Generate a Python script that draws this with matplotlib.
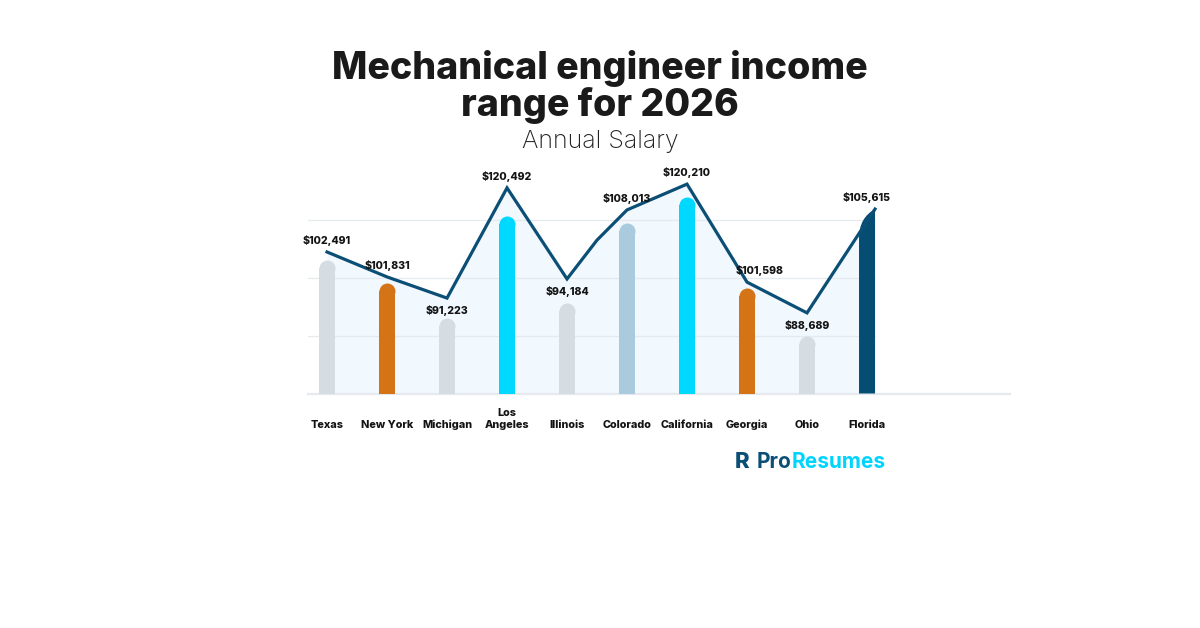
import numpy as np
import matplotlib
matplotlib.use("Agg")
import matplotlib.pyplot as plt
from matplotlib.path import Path
from matplotlib.patches import PathPatch

plt.rcParams['font.family'] = ['Inter', 'DejaVu Sans']

states = ['Texas', 'New York', 'Michigan', 'Los\nAngeles', 'Illinois',
          'Colorado', 'California', 'Georgia', 'Ohio', 'Florida']
salaries = [102491, 101831, 91223, 120492, 94184,
            108013, 120210, 101598, 88689, 105615]
# the graphic is not drawn to scale, so these are the heights as drawn (grid step = 20)
bar_height = [46.0, 38.1, 26.0, 61.2, 31.2, 58.8, 67.8, 36.4, 19.8, 63.6]
line_height = [48.8, 40.2, 32.9, 70.9, 39.5, 63.3, 72.2, 38.4, 27.8, 63.6]
# one extra bend in the line between Illinois and Colorado
bend_x = 4.5
bend_height = 52.9
bar_colors = ['#d5dde3', '#d47416', '#d5dde3', '#00d9ff', '#d5dde3',
              '#a9cbdd', '#00d9ff', '#d47416', '#d5dde3', '#064d73']

NAVY = '#0c4f76'
CYAN = '#00d4ff'
INK = '#141414'

fig = plt.figure(figsize=(12, 6.28), dpi=100)
fig.patch.set_facecolor('white')

# axes placed in pixels: x 308..1010, baseline at 393.5, top at 161.5
ax = fig.add_axes([308 / 1200, 1 - 393.5 / 628, 702 / 1200, 232 / 628])
x0, x1 = -0.317, 11.383
ax.set_xlim(x0, x1)
ax.set_ylim(0, 80)
ax.axis('off')

px_y = 232 / 80          # pixels per y unit
w = 16 / 60              # bar width, 16 px
r = 8 / px_y             # radius of rounded top in y units

pos = np.arange(len(states))
x_line = np.insert(pos.astype(float), 5, bend_x)
x_line[-1] = pos[-1] + w / 2
y_line = np.insert(np.array(line_height), 5, bend_height)

# grid + baseline
for g in (20, 40, 60):
    ax.plot([x0, x_line[-1]], [g, g], color='#e6e9ed', lw=0.9, zorder=2)
ax.plot([x0, x1], [0, 0], color='#e6eaee', lw=1.6, zorder=2, clip_on=False)

# light area under the line
ax.fill_between(x_line, 0, y_line, color='#f1f8fe', zorder=1, lw=0)

# bars with rounded tops
cap_size = (16 * 0.72) ** 2
for i in range(len(states) - 1):
    ax.bar(pos[i], bar_height[i] - r, width=w, color=bar_colors[i], zorder=3, lw=0)
    ax.scatter(pos[i], bar_height[i] - r, s=cap_size, color=bar_colors[i],
               zorder=3, lw=0)

# last bar rises to the line like a fin
xl = pos[-1] - w / 2
xr = pos[-1] + w / 2
peak = bar_height[-1]
fin = Path([(xl, 0), (xl, peak - 10), (xl, peak - 3), (xr, peak), (xr, 0), (xl, 0)],
           [Path.MOVETO, Path.LINETO, Path.CURVE3, Path.CURVE3, Path.LINETO, Path.CLOSEPOLY])
ax.add_patch(PathPatch(fin, facecolor=bar_colors[-1], lw=0, zorder=3))

ax.plot(x_line, y_line, color=NAVY, lw=2.3, zorder=4, solid_joinstyle='miter')

# value labels: above the line, or below it at a dip
nudge = {7: 9}
for i, v in enumerate(salaries):
    k = i if i < 5 else i + 1
    lo = y_line[k - 1] if k > 0 else np.inf
    hi = y_line[k + 1] if k < len(y_line) - 1 else np.inf
    dip = y_line[k] < lo and y_line[k] < hi
    dy = -9 if dip else 8.5
    ax.annotate(f'${v:,}', (pos[i], y_line[k]), xytext=(nudge.get(i, 0), dy),
                textcoords='offset points', ha='center', va='center',
                fontsize=7.6, fontweight='heavy', color=INK, zorder=5)

# category names
for i, s in enumerate(states):
    ax.annotate(s, (pos[i], 0), xytext=(0, -26.3), textcoords='offset points',
                ha='center', va='bottom', fontsize=7.8, fontweight='heavy',
                color=INK, linespacing=1.25, annotation_clip=False)

# titles
fig.text(0.5, 1 - 78.7 / 628, 'Mechanical engineer income', ha='center',
         va='baseline', fontsize=27, fontweight='heavy', color='#1a1a1a')
fig.text(0.5, 1 - 116 / 628, 'range for 2026', ha='center', va='baseline',
         fontsize=27, fontweight='heavy', color='#1a1a1a')
fig.text(0.5, 1 - 148 / 628, 'Annual Salary', ha='center', va='baseline',
         fontsize=18, fontweight='light', color='#222222')

# logo
fig.text(742 / 1200, 1 - 468 / 628, 'R', ha='center', va='baseline',
         fontsize=16, fontweight='heavy', color=NAVY)
fig.text(792 / 1200, 1 - 468 / 628, 'Pro', ha='right', va='baseline',
         fontsize=15, fontweight='bold', color=NAVY)
fig.text(792 / 1200, 1 - 468 / 628, 'Resumes', ha='left', va='baseline',
         fontsize=15, fontweight='bold', color=CYAN)

fig.savefig('out.png', dpi=100, facecolor='white')
